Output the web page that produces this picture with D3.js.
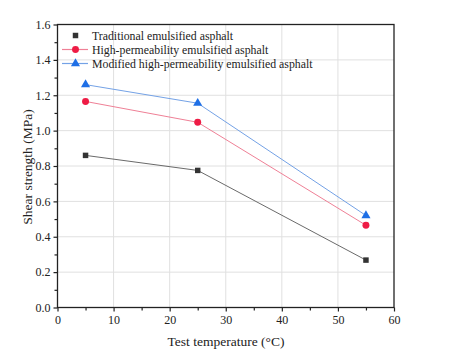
<!DOCTYPE html>
<html>
<head>
<meta charset="utf-8">
<script src="https://cdn.jsdelivr.net/npm/d3@7"></script>
<style>
  body { margin: 0; background: #fff; }
  text { font-family: "Liberation Serif", "Times New Roman", serif; fill: #222; }
</style>
</head>
<body>
<script>
// temperatures (°C)
var temps = [5, 25, 55];
var traditional = [0.86, 0.775, 0.268];
var highPerm = [1.165, 1.047, 0.465];
var modified = [1.26, 1.155, 0.52];
var seriesNames = ["Traditional emulsified asphalt", "High-permeability emulsified asphalt", "Modified high-permeability emulsified asphalt"];
var xTicks = [0, 10, 20, 30, 40, 50, 60];
var yTicks = [0.0, 0.2, 0.4, 0.6, 0.8, 1.0, 1.2, 1.4, 1.6];

var width = 474, height = 362;
var plotL = 57.5, plotR = 394, plotT = 24.5, plotB = 307.5;

var svg = d3.select("body").append("svg")
  .attr("width", width).attr("height", height);

var x = d3.scaleLinear().domain([0, 60]).range([plotL, plotR]);
var y = d3.scaleLinear().domain([0, 1.6]).range([plotB, plotT]);

// grid
svg.append("g").selectAll("line").data(xTicks.slice(1, -1)).enter().append("line")
  .attr("x1", function(d) { return x(d); }).attr("x2", function(d) { return x(d); })
  .attr("y1", plotT).attr("y2", plotB)
  .attr("stroke", "#e0e0e0").attr("stroke-width", 1);
svg.append("g").selectAll("line").data(yTicks.slice(1, -1)).enter().append("line")
  .attr("y1", function(d) { return y(d); }).attr("y2", function(d) { return y(d); })
  .attr("x1", plotL).attr("x2", plotR)
  .attr("stroke", "#e0e0e0").attr("stroke-width", 1);

// axes
var xAxis = d3.axisBottom(x).tickValues(xTicks).tickSize(4).tickPadding(4).tickFormat(d3.format("d"));
var xMinor = d3.axisBottom(x).tickValues(d3.range(5, 60, 10)).tickSize(3).tickFormat("");
var yAxis = d3.axisLeft(y).tickValues(yTicks).tickSize(4).tickPadding(3).tickFormat(d3.format(".1f"));
var yMinor = d3.axisLeft(y).tickValues(d3.range(0.1, 1.6, 0.2)).tickSize(3).tickFormat("");

function styleAxis(g) {
  g.attr("font-family", null);
  g.select(".domain").remove();
  g.selectAll("line").attr("stroke", "#222").attr("stroke-width", 1.2);
  g.selectAll("text").style("font-family", "'Liberation Serif', serif").style("font-size", "12px").attr("fill", "#333");
}
svg.append("g").attr("transform", "translate(0," + plotB + ")").call(xAxis).call(styleAxis);
svg.append("g").attr("transform", "translate(0," + plotB + ")").call(xMinor).call(styleAxis);
svg.append("g").attr("transform", "translate(" + plotL + ",0)").call(yAxis).call(styleAxis);
svg.append("g").attr("transform", "translate(" + plotL + ",0)").call(yMinor).call(styleAxis);

// frame
svg.append("rect").attr("x", plotL).attr("y", plotT)
  .attr("width", plotR - plotL).attr("height", plotB - plotT)
  .attr("fill", "none").attr("stroke", "#222").attr("stroke-width", 1.3);

// series
var series = [
  { name: seriesNames[0], values: traditional, color: "#333333", line: "#6a6a6a", shape: d3.symbolSquare, size: 30, legendLine: false },
  { name: seriesNames[1], values: highPerm, color: "#ee1c45", line: "#ef8096", shape: d3.symbolCircle, size: 38, legendLine: true },
  { name: seriesNames[2], values: modified, color: "#1e6fe6", line: "#74a2e6", shape: d3.symbolTriangle, size: 36, legendLine: true }
];

var lineGen = d3.line()
  .x(function(d) { return x(d[0]); })
  .y(function(d) { return y(d[1]); });

series.forEach(function(s) {
  var pts = temps.map(function(t, i) { return [t, s.values[i]]; });
  svg.append("path").datum(pts).attr("d", lineGen)
    .attr("fill", "none").attr("stroke", s.line).attr("stroke-width", 1);
  svg.append("g").selectAll("path").data(pts).enter().append("path")
    .attr("d", d3.symbol().type(s.shape).size(s.size))
    .attr("transform", function(d) { return "translate(" + x(d[0]) + "," + y(d[1]) + ")"; })
    .attr("fill", s.color);
});

// legend
var legend = svg.append("g");
series.forEach(function(s, i) {
  var ly = 35.5 + i * 14;
  if (s.legendLine) {
    legend.append("line").attr("x1", 62).attr("x2", 88).attr("y1", ly).attr("y2", ly)
      .attr("stroke", s.line).attr("stroke-width", 1.2);
  }
  legend.append("path").attr("d", d3.symbol().type(s.shape).size(s.size))
    .attr("transform", "translate(75.5," + ly + ")").attr("fill", s.color);
  legend.append("text").attr("x", 92).attr("y", ly + 4)
    .style("font-size", "11.8px").text(s.name);
});

// axis titles
svg.append("text").attr("x", 226).attr("y", 346)
  .attr("text-anchor", "middle").style("font-size", "13.5px")
  .text("Test temperature (\u00B0C)");
svg.append("text").attr("transform", "translate(32," + 167 + ") rotate(-90)")
  .attr("text-anchor", "middle").style("font-size", "13.5px")
  .text("Shear strength (MPa)");
</script>
</body>
</html>
